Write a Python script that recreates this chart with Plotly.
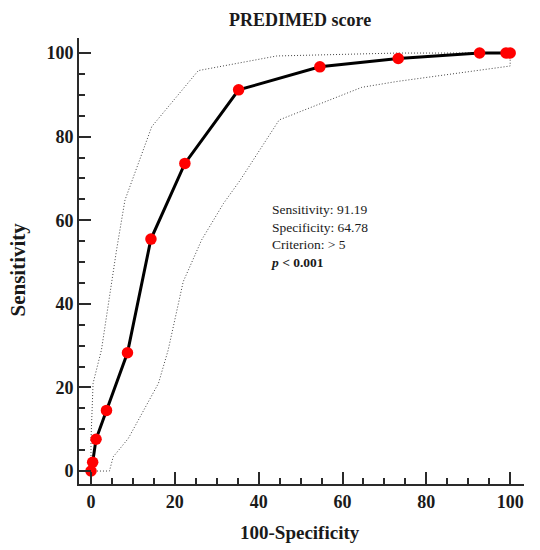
"""ROC curve for the PREDIMED score, with its confidence band."""

import plotly.graph_objects as go

# ROC points: 100-specificity (x) against sensitivity (y)
roc_fpr = [0, 0.4, 1.2, 3.7, 8.7, 14.3, 22.4, 35.22, 54.6, 73.3, 92.7, 99.0, 100]
roc_sens = [0, 2.1, 7.6, 14.5, 28.3, 55.5, 73.6, 91.19, 96.7, 98.7, 100, 100, 100]

# upper and lower confidence bounds (dotted)
upper_fpr = [0, 0, 0.5, 2.5, 6.1, 8.1, 14.5, 25.6, 44.3, 73.0, 100]
upper_sens = [0, 7.5, 21, 29, 52.9, 64.8, 82.4, 95.8, 99.3, 100, 100]
lower_fpr = [0, 4.4, 5.3, 8.9, 16.1, 18.4, 22.0, 26.4, 31.6, 35.6, 44.9, 64.6, 73.0, 100, 100]
lower_sens = [0, 0, 3.4, 7.8, 21.0, 28.9, 45.3, 55.3, 64.0, 69.6, 84.0, 91.8, 93.2, 96.9, 100]

stats_lines = [
    "Sensitivity: 91.19",
    "Specificity: 64.78",
    "Criterion: > 5",
    "<b><i>p</i> &lt; 0.001</b>",
]

SERIF = "Liberation Serif"
AXIS_COLOR = "#2a2a2a"
TEXT_COLOR = "#1a1a1a"

fig = go.Figure()

for xs, ys in ((upper_fpr, upper_sens), (lower_fpr, lower_sens)):
    fig.add_trace(go.Scatter(
        x=xs, y=ys, mode="lines",
        line=dict(color="#444", width=1, dash="1px,2px"),
        hoverinfo="skip", showlegend=False,
    ))

fig.add_trace(go.Scatter(
    x=roc_fpr, y=roc_sens, mode="lines+markers",
    line=dict(color="black", width=3),
    marker=dict(color="#ff0000", size=11.5),
    showlegend=False,
))

axis_common = dict(
    showline=True, linewidth=2, linecolor=AXIS_COLOR,
    showgrid=False, zeroline=False,
    ticks="inside", ticklen=12, tickwidth=2, tickcolor=AXIS_COLOR,
    tick0=0, dtick=20,
    minor=dict(ticks="inside", ticklen=6, tickwidth=1.5, tickcolor=AXIS_COLOR,
               tick0=0, dtick=5, showgrid=False),
    tickfont=dict(family=SERIF, size=18, color=TEXT_COLOR, weight="bold"),
)

fig.update_xaxes(range=[-2.86, 103.3], **axis_common)
fig.update_yaxes(range=[-3.1, 103.6], **axis_common)


def bold(size):
    return dict(family=SERIF, size=size, color=TEXT_COLOR, weight="bold")


fig.add_annotation(text="PREDIMED score", xref="paper", yref="paper",
                   x=0.497, y=1.040, xanchor="center", yanchor="middle",
                   showarrow=False, font=bold(18))
fig.add_annotation(text="100-Specificity", xref="paper", yref="paper",
                   x=0.497, y=-0.108, xanchor="center", yanchor="middle",
                   showarrow=False, font=bold(19))
fig.add_annotation(text="Sensitivity", xref="paper", yref="paper",
                   x=-0.138, y=0.48, xanchor="center", yanchor="middle",
                   textangle=-90, showarrow=False, font=bold(21))

fig.add_annotation(text="<br>".join(stats_lines), xref="x", yref="y",
                   x=42.5, y=56.2, xanchor="left", yanchor="middle", align="left",
                   showarrow=False,
                   font=dict(family=SERIF, size=13.5, color=TEXT_COLOR))

fig.update_layout(
    width=540, height=550,
    margin=dict(l=79, r=16, t=38, b=66),
    plot_bgcolor="white", paper_bgcolor="white",
)

# the page's default body margin would shift the figure by 8px
fig.write_html("out.html", config={"displayModeBar": False},
               post_script="document.body.style.margin = '0';")
